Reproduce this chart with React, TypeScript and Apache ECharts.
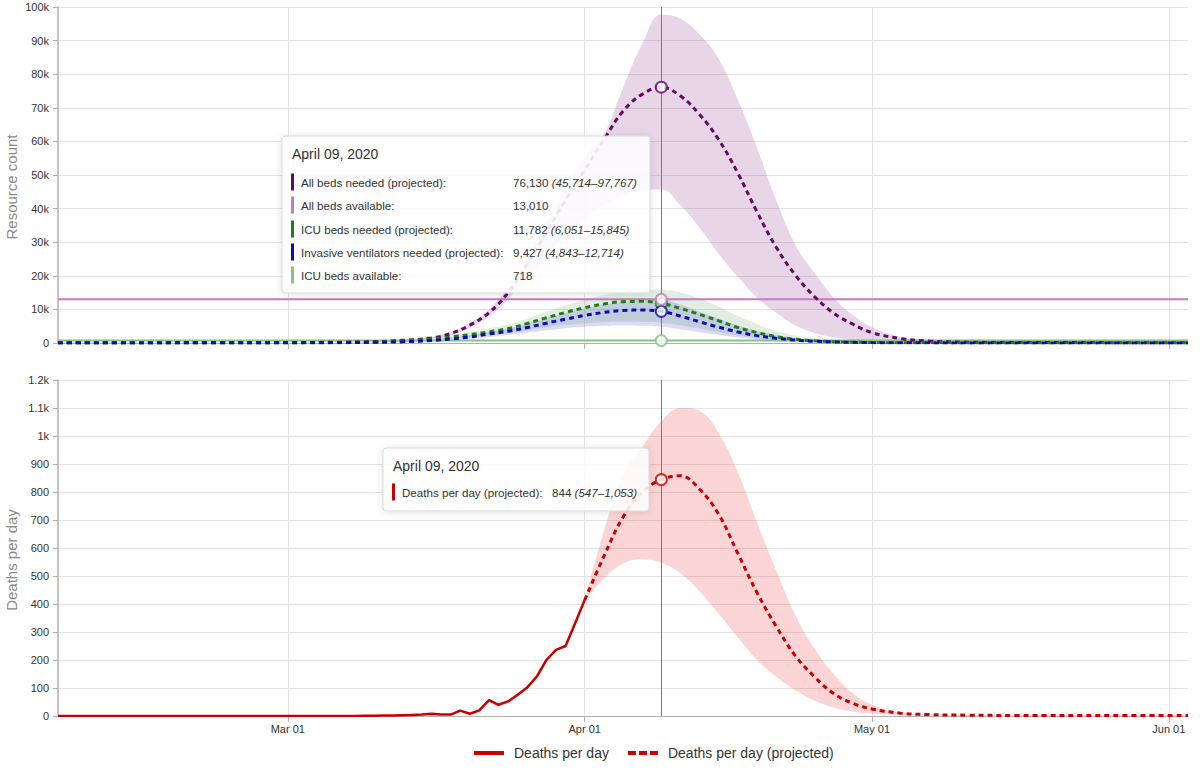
import React, { useEffect, useRef } from 'react';
import * as echarts from 'echarts';

// ---- Axis range and ticks -------------------------------------------------
const FIRST_DAY = '2020-02-06';
const LAST_DAY = '2020-06-03';
const SELECTED_DAY = '2020-04-09';
const SELECTED_LABEL = 'April 09, 2020';
const MONTH_TICKS = ['2020-03-01', '2020-04-01', '2020-05-01', '2020-06-01'];
const MONTH_LABELS = ['Mar 01', 'Apr 01', 'May 01', 'Jun 01'];
const RESOURCE_MAX = 100000;
const RESOURCE_STEP = 10000;
const DEATHS_MAX = 1200;
const DEATHS_STEP = 100;
const RESOURCE_TITLE = 'Resource count';
const DEATHS_TITLE = 'Deaths per day';

// ---- Hospital resource projections (knot dates) ---------------------------
const bedDates = [
  '2020-02-06', '2020-03-01', '2020-03-07', '2020-03-10', '2020-03-13', '2020-03-16', '2020-03-18',
  '2020-03-20', '2020-03-22', '2020-03-24', '2020-03-26', '2020-03-28', '2020-03-30', '2020-04-01',
  '2020-04-03', '2020-04-05', '2020-04-07', '2020-04-09', '2020-04-11', '2020-04-13', '2020-04-15',
  '2020-04-17', '2020-04-19', '2020-04-21', '2020-04-23', '2020-04-25', '2020-04-27', '2020-04-29',
  '2020-05-01', '2020-05-04', '2020-05-07', '2020-05-11', '2020-05-16', '2020-06-03',
];
const allBedsMean = [100, 150, 250, 400, 800, 1500, 2800, 5300, 9000, 15000, 23500, 33000, 42500, 51500, 60500, 69000, 74000, 76130, 73500, 68000, 60500, 50500, 39000, 28500, 20200, 13800, 8900, 5600, 3100, 1300, 550, 250, 150, 100];
const allBedsUpper = [120, 180, 300, 480, 950, 1800, 3200, 6000, 10000, 16500, 25500, 35500, 45500, 55000, 62000, 76000, 89000, 97767, 96500, 91800, 84500, 72300, 58000, 42500, 29200, 20800, 13500, 8300, 4700, 1800, 800, 400, 250, 200];
const allBedsLower = [60, 100, 200, 330, 650, 1250, 2300, 4400, 7800, 13000, 19500, 26000, 32000, 37000, 41000, 44000, 45500, 45714, 41000, 34300, 26500, 19700, 13500, 9000, 5300, 3000, 1700, 900, 500, 250, 150, 80, 60, 50];

const icuMean = [20, 40, 150, 300, 650, 1200, 1800, 2500, 3300, 4300, 5800, 7500, 9100, 10500, 11600, 12300, 12400, 11782, 10300, 8500, 6600, 4600, 3100, 1900, 1100, 650, 400, 250, 150, 80, 50, 30, 20, 10];
const icuUpper = [30, 60, 220, 420, 900, 1650, 2400, 3300, 4300, 5500, 7300, 9300, 11200, 12900, 14300, 15200, 15700, 15845, 15000, 13200, 10800, 8000, 5600, 3600, 2200, 1350, 850, 520, 320, 170, 100, 60, 40, 20];
const icuLower = [10, 25, 100, 200, 450, 850, 1250, 1750, 2300, 2950, 3800, 4700, 5400, 5900, 6200, 6300, 6250, 6051, 5300, 4300, 3200, 2200, 1450, 880, 520, 310, 190, 115, 70, 40, 25, 15, 10, 5];

const ventMean = [15, 30, 100, 220, 350, 750, 1200, 1800, 2700, 3500, 4600, 5900, 7100, 8200, 9100, 9700, 9800, 9427, 8000, 6300, 4700, 3300, 2200, 1400, 850, 520, 320, 200, 120, 70, 40, 25, 15, 10];
const ventUpper = [25, 50, 160, 350, 600, 1050, 1600, 2400, 3300, 4300, 5700, 7300, 8900, 10300, 11400, 12200, 12600, 12714, 11400, 9300, 7200, 5200, 3600, 2400, 1500, 950, 600, 380, 230, 120, 70, 45, 30, 20];
const ventLower = [8, 15, 60, 130, 250, 500, 850, 1300, 1800, 2400, 3100, 3800, 4400, 4800, 5100, 5200, 5100, 4843, 4100, 3200, 2400, 1650, 1050, 650, 400, 240, 150, 90, 55, 30, 20, 12, 8, 5];

const allBedsAvailable = 13010;
const icuBedsAvailable = 718;

// ---- Deaths per day ------------------------------------------------------
const actualDates = [
  '2020-02-06', '2020-03-07', '2020-03-08', '2020-03-09', '2020-03-10', '2020-03-11', '2020-03-12',
  '2020-03-13', '2020-03-14', '2020-03-15', '2020-03-16', '2020-03-17', '2020-03-18', '2020-03-19',
  '2020-03-20', '2020-03-21', '2020-03-22', '2020-03-23', '2020-03-24', '2020-03-25', '2020-03-26',
  '2020-03-27', '2020-03-28', '2020-03-29', '2020-03-30', '2020-03-31', '2020-04-01',
];
const deathsActual = [0, 0, 0, 1, 1, 2, 2, 3, 4, 5, 8, 5, 5, 19, 8, 20, 57, 40, 52, 76, 102, 141, 200, 236, 250, 331, 414];

const projDates = [
  '2020-04-01', '2020-04-03', '2020-04-05', '2020-04-07', '2020-04-09', '2020-04-11', '2020-04-13',
  '2020-04-15', '2020-04-17', '2020-04-19', '2020-04-21', '2020-04-23', '2020-04-25', '2020-04-27',
  '2020-04-29', '2020-05-01', '2020-05-04', '2020-05-07', '2020-05-11', '2020-05-16', '2020-05-26', '2020-06-03',
];
const deathsProj = [414, 570, 710, 800, 844, 858, 810, 720, 580, 440, 320, 215, 140, 80, 45, 25, 10, 5, 3, 2, 2, 2];
const deathsUpper = [414, 660, 860, 960, 1053, 1100, 1090, 1010, 870, 690, 520, 360, 240, 150, 80, 40, 12, 6, 4, 3, 3, 3];
const deathsLower = [414, 490, 545, 560, 547, 510, 445, 365, 280, 200, 140, 92, 55, 30, 15, 8, 4, 2, 1, 1, 1, 1];

// ---- Styling -------------------------------------------------------------
const FONT = '"Liberation Sans", Arial, Helvetica, sans-serif';
const C = {
  beds: '#640a64',
  bedsBand: 'rgba(140, 50, 140, 0.2)',
  bedsAvail: '#c27cc2',
  icu: '#277a1c',
  icuBand: 'rgba(70, 150, 60, 0.16)',
  icuAvail: '#86c286',
  vent: '#0c0cb2',
  ventBand: 'rgba(40, 40, 200, 0.17)',
  deaths: '#c80000',
  deathsBand: 'rgba(240, 80, 80, 0.24)',
  grid: '#e4e4e4',
  axis: '#b0b0b0',
  pointer: '#7a7a7a',
  axisTitle: '#8a8a8a',
};
const TIP_Z = 100;
const TIP_FONT = 11.6;
const SOLID_ICON = 'path://M0,0H30V4H0Z';
const DASHED_ICON = 'path://M0,0H8V4H0Z M11,0H19V4H11Z M22,0H30V4H22Z';

function dayRange(from: string, to: string): string[] {
  const out: string[] = [];
  const d = new Date(from + 'T00:00:00Z');
  const end = new Date(to + 'T00:00:00Z');
  while (d.getTime() <= end.getTime()) {
    out.push(d.toISOString().slice(0, 10));
    d.setUTCDate(d.getUTCDate() + 1);
  }
  return out;
}

const pairs = (dates: string[], vals: number[]) => dates.map((d, i) => [d, vals[i]]);
const valueAt = (dates: string[], vals: number[]) => vals[dates.indexOf(SELECTED_DAY)];
const fmt = (n: number) => n.toLocaleString('en-US');
const isMonthStart = (_i: number, v: string) => MONTH_TICKS.indexOf(v) >= 0;

function bandSeries(key: string, gi: number, dates: string[], lower: number[], upper: number[], color: string) {
  const common = {
    type: 'line',
    xAxisIndex: gi,
    yAxisIndex: gi,
    stack: key,
    smooth: 0.4,
    symbol: 'none',
    silent: true,
    lineStyle: { width: 0, opacity: 0 },
    z: 1,
  };
  return [
    { ...common, name: key + ' low', data: pairs(dates, lower) },
    {
      ...common,
      name: key + ' high',
      data: pairs(dates, upper.map((u, i) => u - lower[i])),
      areaStyle: { color, opacity: 1 },
    },
  ];
}

function dashedLine(name: string, gi: number, data: any[], color: string, z = 4) {
  return {
    name,
    type: 'line',
    xAxisIndex: gi,
    yAxisIndex: gi,
    data,
    smooth: 0.4,
    symbol: 'none',
    lineStyle: { color, width: 3, type: [5, 4] },
    itemStyle: { color },
    z,
  };
}

function flatLine(name: string, value: number, color: string) {
  return {
    name,
    type: 'line',
    xAxisIndex: 0,
    yAxisIndex: 0,
    data: [[FIRST_DAY, value], [LAST_DAY, value]],
    symbol: 'none',
    lineStyle: { color, width: 2 },
    itemStyle: { color },
    z: 3,
  };
}

function marker(value: number, color: string) {
  return {
    value: [SELECTED_DAY, value],
    itemStyle: { color: '#ffffff', borderColor: color, borderWidth: 2 },
  };
}

function tipRow(cy: number, color: string, label: string, value: string, labelX: number, valueX: number) {
  return [
    {
      type: 'rect',
      z: TIP_Z + 1,
      shape: { x: labelX - 10, y: cy - 8.5, width: 3, height: 17 },
      style: { fill: color },
    },
    {
      type: 'text',
      z: TIP_Z + 1,
      x: labelX,
      y: cy,
      style: { text: label, fontSize: TIP_FONT, fontFamily: FONT, fill: '#333', verticalAlign: 'middle' },
    },
    {
      type: 'text',
      z: TIP_Z + 1,
      x: valueX,
      y: cy,
      style: {
        text: value,
        fontSize: TIP_FONT,
        fontFamily: FONT,
        fill: '#333',
        verticalAlign: 'middle',
        rich: { r: { fontSize: TIP_FONT, fontFamily: FONT, fill: '#333', fontStyle: 'italic' } },
      },
    },
  ];
}

const withRange = (mean: number, lo: number, hi: number) => `${fmt(mean)} {r|(${fmt(lo)}–${fmt(hi)})}`;

function tipBox(x: number, y: number, w: number, h: number, rows: any[]) {
  return {
    type: 'group',
    x,
    y,
    z: TIP_Z,
    children: [
      {
        type: 'rect',
        z: TIP_Z,
        shape: { x: 0, y: 0, width: w, height: h, r: 3 },
        style: {
          fill: 'rgba(255,255,255,0.88)',
          stroke: '#d9d9d9',
          lineWidth: 1,
          shadowBlur: 8,
          shadowColor: 'rgba(0,0,0,0.12)',
          shadowOffsetY: 1,
        },
      },
      {
        type: 'text',
        z: TIP_Z + 1,
        x: 10,
        y: 18,
        style: { text: SELECTED_LABEL, fontSize: 14, fontFamily: FONT, fill: '#333', verticalAlign: 'middle' },
      },
      ...rows,
    ],
  };
}

// vertical title beside a value axis
function axisTitle(text: string, cx: number, cy: number) {
  return {
    type: 'text',
    x: cx,
    y: cy,
    rotation: Math.PI / 2,
    silent: true,
    style: {
      text,
      fontSize: 15,
      fontFamily: FONT,
      fill: C.axisTitle,
      align: 'center',
      verticalAlign: 'middle',
    },
  };
}

function buildOption() {
  const days = dayRange(FIRST_DAY, LAST_DAY);

  const xAxis = (gi: number, labels: boolean) => ({
    type: 'category',
    gridIndex: gi,
    data: days,
    boundaryGap: false,
    axisLine: { show: true, lineStyle: { color: C.axis } },
    axisTick: { show: true, interval: isMonthStart, length: 6, lineStyle: { color: C.axis } },
    axisLabel: {
      show: labels,
      interval: isMonthStart,
      formatter: (v: string) => MONTH_LABELS[MONTH_TICKS.indexOf(v)] || '',
      color: '#333',
      fontSize: 11,
      fontFamily: FONT,
      margin: 7,
    },
    splitLine: { show: true, interval: isMonthStart, lineStyle: { color: C.grid } },
  });

  const yAxis = (gi: number, max: number, step: number, f: (v: number) => string) => ({
    type: 'value',
    gridIndex: gi,
    min: 0,
    max,
    interval: step,
    axisLine: { show: true, lineStyle: { color: C.axis, width: 1.5 } },
    axisTick: { show: true, length: 5, lineStyle: { color: C.axis } },
    axisLabel: { formatter: f, color: '#333', fontSize: 11, fontFamily: FONT, margin: 9 },
    splitLine: { show: true, lineStyle: { color: C.grid } },
  });

  const topRows = [
    ...tipRow(46, C.beds, 'All beds needed (projected):',
      withRange(valueAt(bedDates, allBedsMean), valueAt(bedDates, allBedsLower), valueAt(bedDates, allBedsUpper)), 19, 231),
    ...tipRow(69, C.bedsAvail, 'All beds available:', fmt(allBedsAvailable), 19, 231),
    ...tipRow(93, C.icu, 'ICU beds needed (projected):',
      withRange(valueAt(bedDates, icuMean), valueAt(bedDates, icuLower), valueAt(bedDates, icuUpper)), 19, 231),
    ...tipRow(116, C.vent, 'Invasive ventilators needed (projected):',
      withRange(valueAt(bedDates, ventMean), valueAt(bedDates, ventLower), valueAt(bedDates, ventUpper)), 19, 231),
    ...tipRow(139, C.icuAvail, 'ICU beds available:', fmt(icuBedsAvailable), 19, 231),
  ];
  const bottomRows = tipRow(44, C.deaths, 'Deaths per day (projected):',
    withRange(valueAt(projDates, deathsProj), valueAt(projDates, deathsLower), valueAt(projDates, deathsUpper)), 19, 169);

  return {
    animation: false,
    backgroundColor: '#ffffff',
    textStyle: { fontFamily: FONT },
    grid: [
      { left: 58, right: 12, top: 7, height: 336, outerBoundsMode: 'none' },
      { left: 58, right: 12, top: 380, height: 336, outerBoundsMode: 'none' },
    ],
    xAxis: [xAxis(0, false), xAxis(1, true)],
    yAxis: [
      yAxis(0, RESOURCE_MAX, RESOURCE_STEP, (v) => (v === 0 ? '0' : `${v / 1000}k`)),
      yAxis(1, DEATHS_MAX, DEATHS_STEP, (v) => (v >= 1000 ? `${v / 1000}k` : `${v}`)),
    ],
    legend: {
      data: [
        { name: 'Deaths per day', icon: SOLID_ICON },
        { name: 'Deaths per day (projected)', icon: DASHED_ICON },
      ],
      left: 469,
      top: 741,
      itemWidth: 30,
      itemHeight: 4,
      itemGap: 19,
      textStyle: { fontSize: 14, color: '#333', fontFamily: FONT, padding: [0, 0, 0, 5] },
    },
    graphic: [
      axisTitle(RESOURCE_TITLE, 11, 187),
      axisTitle(DEATHS_TITLE, 11, 560),
      tipBox(282, 136, 368, 157, topRows),
      tipBox(383, 448, 266, 63, bottomRows),
    ],
    series: [
      // uncertainty bands
      ...bandSeries('all beds', 0, bedDates, allBedsLower, allBedsUpper, C.bedsBand),
      ...bandSeries('icu beds', 0, bedDates, icuLower, icuUpper, C.icuBand),
      ...bandSeries('ventilators', 0, bedDates, ventLower, ventUpper, C.ventBand),
      // capacity lines
      flatLine('All beds available', allBedsAvailable, C.bedsAvail),
      flatLine('ICU beds available', icuBedsAvailable, C.icuAvail),
      // projected needs
      dashedLine('All beds needed (projected)', 0, pairs(bedDates, allBedsMean), C.beds),
      dashedLine('ICU beds needed (projected)', 0, pairs(bedDates, icuMean), C.icu),
      dashedLine('Invasive ventilators needed (projected)', 0, pairs(bedDates, ventMean), C.vent, 5),
      {
        name: 'selected resources',
        type: 'scatter',
        xAxisIndex: 0,
        yAxisIndex: 0,
        symbol: 'circle',
        symbolSize: 11,
        z: 10,
        silent: true,
        data: [
          marker(valueAt(bedDates, allBedsMean), C.beds),
          marker(valueAt(bedDates, icuMean), C.icu),
          marker(valueAt(bedDates, ventMean), C.vent),
          marker(allBedsAvailable, C.bedsAvail),
          marker(icuBedsAvailable, C.icuAvail),
        ],
        markLine: {
          silent: true,
          symbol: 'none',
          label: { show: false },
          lineStyle: { color: C.pointer, width: 1, type: 'solid' },
          z: 6,
          data: [{ xAxis: SELECTED_DAY }],
        },
      },
      // deaths
      ...bandSeries('deaths', 1, projDates, deathsLower, deathsUpper, C.deathsBand),
      {
        name: 'Deaths per day',
        type: 'line',
        xAxisIndex: 1,
        yAxisIndex: 1,
        data: pairs(actualDates, deathsActual),
        symbol: 'none',
        lineStyle: { color: C.deaths, width: 2.5 },
        itemStyle: { color: C.deaths },
        z: 4,
      },
      dashedLine('Deaths per day (projected)', 1, pairs(projDates, deathsProj), C.deaths),
      {
        name: 'selected deaths',
        type: 'scatter',
        xAxisIndex: 1,
        yAxisIndex: 1,
        symbol: 'circle',
        symbolSize: 11,
        z: 10,
        silent: true,
        data: [marker(valueAt(projDates, deathsProj), C.deaths)],
        markLine: {
          silent: true,
          symbol: 'none',
          label: { show: false },
          lineStyle: { color: C.pointer, width: 1, type: 'solid' },
          z: 6,
          data: [{ xAxis: SELECTED_DAY }],
        },
      },
    ],
  };
}

export default function App() {
  const ref = useRef<HTMLDivElement>(null);
  useEffect(() => {
    const el = ref.current;
    if (!el) return;
    const chart = echarts.init(el, null, { renderer: 'svg' });
    chart.setOption(buildOption() as any);
    return () => chart.dispose();
  }, []);
  return (
    <div
      ref={ref}
      style={{ position: 'fixed', left: 0, top: 0, width: 1200, height: 774, background: '#ffffff' }}
    />
  );
}
